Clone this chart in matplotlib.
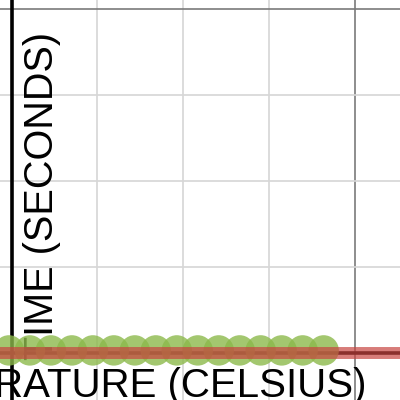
import numpy as np
import matplotlib
matplotlib.use("Agg")
from matplotlib import pyplot as plt

# temperature (celsius) and time (seconds)
temperature = [-0.15, 1.07, 2.29, 3.51, 4.73, 5.95, 7.17, 8.39,
               9.61, 10.83, 12.05, 13.27, 14.49, 15.71, 16.93, 18.15]
time_s = [0.15, 0.15, 0.15, 0.15, 0.15, 0.15, 0.15, 0.15,
          0.15, 0.15, 0.15, 0.15, 0.15, 0.15, 0.15, 0.15]

# trend line y = slope * x + intercept
trend_slope = 0.0
trend_intercept = 0.0

xlabel = "TEMPERATURE (CELSIUS)"
ylabel = "TIME (SECONDS)"

minor_step = 5
major_step = 20

plt.rcParams['font.family'] = ['Liberation Sans', 'DejaVu Sans']

fig = plt.figure(figsize=(4, 4), dpi=100)
ax = fig.add_axes([0, 0, 1, 1])
ax.set_xlim(-0.669, 22.59)
ax.set_ylim(-2.733, 20.523)

# grid like a graphing calculator
for gx in np.arange(-minor_step, 30, minor_step):
  col = '#7a7a7a' if gx % major_step == 0 else '#d6d6d6'
  ax.axvline(gx, color=col, lw=1.2, zorder=0)
for gy in np.arange(-minor_step, 30, minor_step):
  col = '#7a7a7a' if gy % major_step == 0 else '#d6d6d6'
  ax.axhline(gy, color=col, lw=1.2, zorder=0)

# axes
ax.axvline(0, color='black', lw=2.6, zorder=1)
ax.axhline(0, color='black', lw=2.6, zorder=1)

ax.text(53 / 400, 1 - 196 / 400, ylabel, transform=ax.transAxes,
        rotation=90, rotation_mode='anchor', ha='center', va='baseline',
        fontsize=28.5, color='black', zorder=2)
ax.text(366 / 400, 3 / 400, xlabel, transform=ax.transAxes,
        ha='right', va='baseline', fontsize=29, color='black', zorder=2)

ax.scatter(temperature, time_s, s=480, color='#8cb94b', alpha=0.8,
           edgecolors='none', zorder=3)

xs = np.array(ax.get_xlim())
ax.plot(xs, trend_slope * xs + trend_intercept, color='#c74440',
        lw=8.6, alpha=0.7, solid_capstyle='butt', zorder=4)

ax.set_axis_off()
fig.savefig('out.png', dpi=100)
